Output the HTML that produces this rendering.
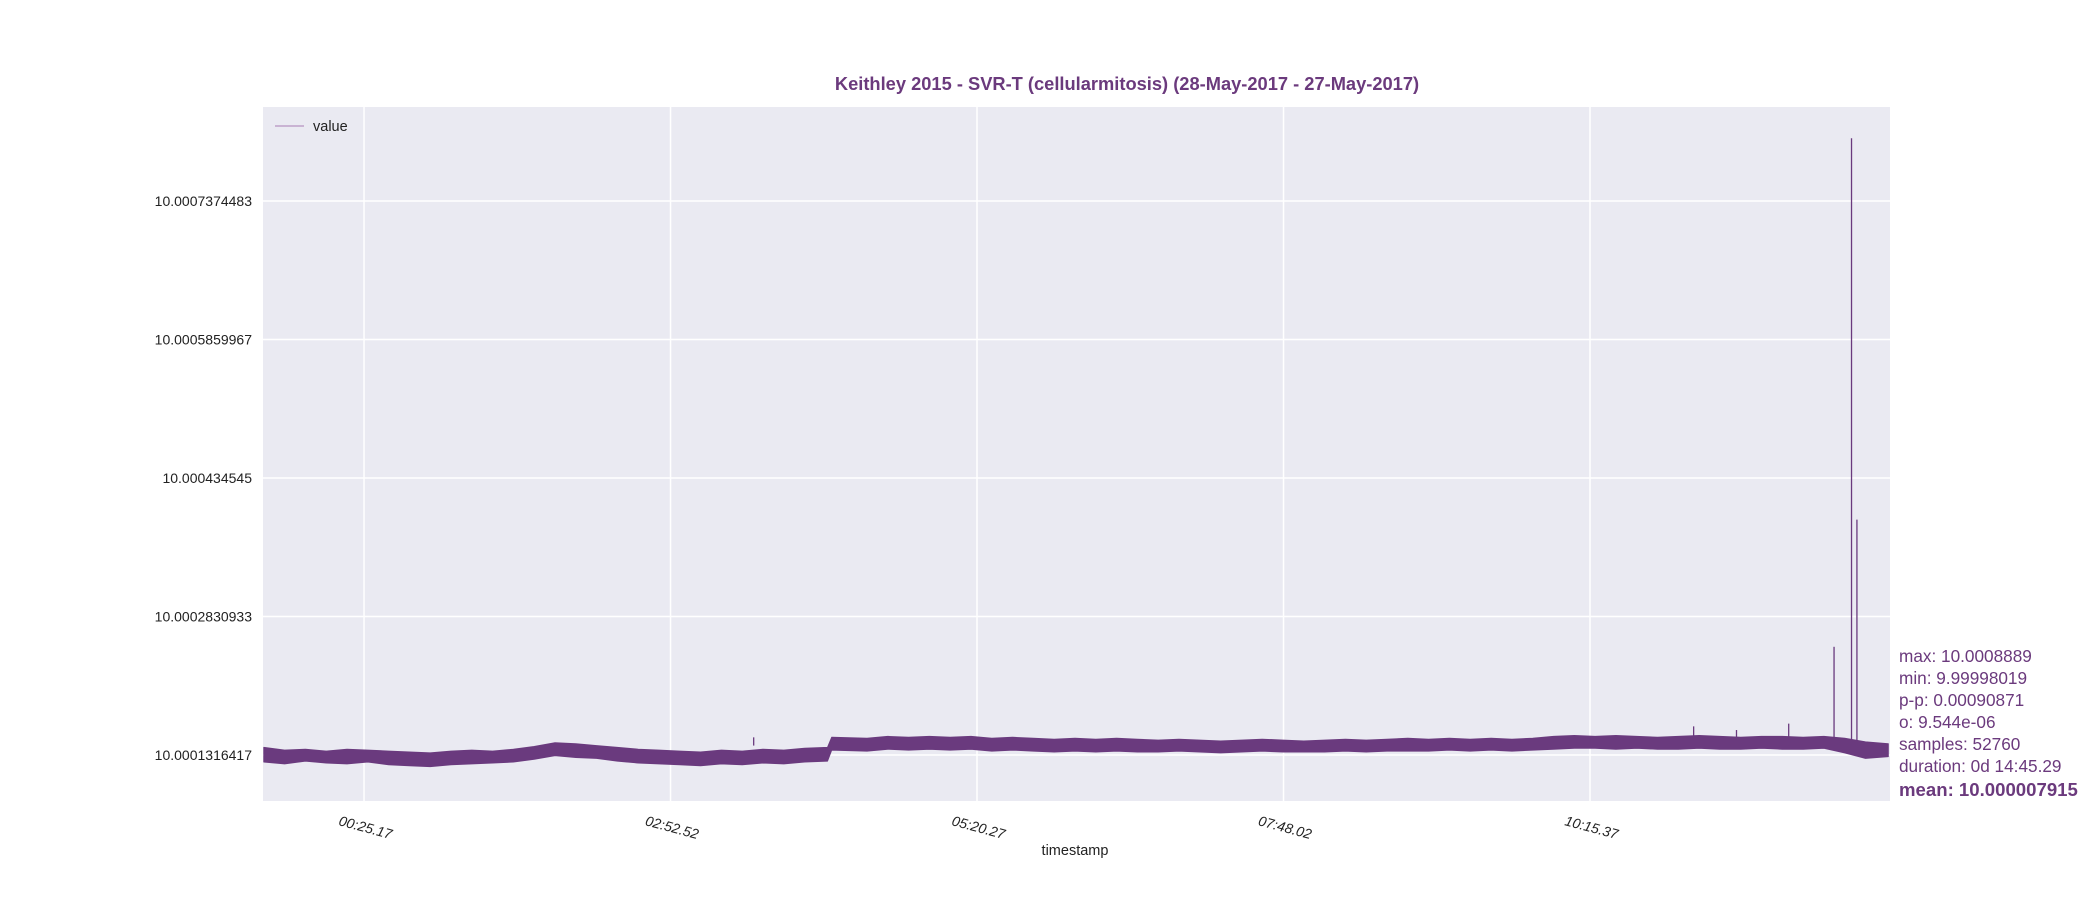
<!DOCTYPE html>
<html><head><meta charset="utf-8"><style>
html,body{margin:0;padding:0;background:#fff;}
svg{display:block;font-family:"Liberation Sans",Arial,sans-serif;}
</style></head><body>
<svg id="chart" width="2100" height="900" viewBox="0 0 2100 900" xmlns="http://www.w3.org/2000/svg">
<text x="1127" y="90" text-anchor="middle" font-size="18.3" font-weight="bold" fill="#6b3a7d">Keithley 2015 - SVR-T (cellularmitosis) (28-May-2017 - 27-May-2017)</text>
<rect x="263" y="107" width="1627" height="694" fill="#eaeaf2"/>
<g id="grid"></g>
<g id="series"></g>
<g id="yticks"></g>
<g id="xticks"></g>
<text x="1075" y="855" text-anchor="middle" font-size="14.5" fill="#222">timestamp</text>
<g>
<line x1="275" y1="126" x2="304" y2="126" stroke="#c9b3d3" stroke-width="2"/>
<text x="313" y="131" font-size="14.5" fill="#222">value</text>
</g>
<g font-size="17.2" fill="#6b3a7d">
<text x="1899" y="662">max: 10.0008889</text>
<text x="1899" y="684">min: 9.99998019</text>
<text x="1899" y="706">p-p: 0.00090871</text>
<text x="1899" y="728">o: 9.544e-06</text>
<text x="1899" y="750">samples: 52760</text>
<text x="1899" y="772">duration: 0d 14:45.29</text>
<text x="1899" y="796" font-weight="bold" font-size="18.6">mean: 10.000007915</text>
</g>
</svg>
<script>
const yTickValues = [10.0001316417, 10.0002830933, 10.000434545, 10.0005859967, 10.0007374483];
const yTickLabels = ["10.0001316417", "10.0002830933", "10.000434545", "10.0005859967", "10.0007374483"];
const xTickValues = [25.17, 172.52, 319.87, 467.22, 614.57];
const xTickLabels = ["00:25.17", "02:52.52", "05:20.27", "07:48.02", "10:15.37"];
const times = [-23,-13,-3,7,17,27,37,47,57,67,77,87,97,107,117,127,137,147,157,167,177,187,197,207,217,227,237,248,250,267,277,287,297,307,317,327,337,347,357,367,377,387,397,407,417,427,437,447,457,467,477,487,497,507,517,527,537,547,557,567,577,587,597,607,617,627,637,647,657,667,677,687,697,707,717,727,737,747,758];
const upperVals = [10.000140,10.000137,10.000138,10.000136,10.000138,10.000137,10.000136,10.000135,10.000134,10.000136,10.000137,10.000136,10.000138,10.000141,10.000145,10.000144,10.000142,10.000140,10.000138,10.000137,10.000136,10.000135,10.000137,10.000136,10.000138,10.000137,10.000139,10.000140,10.000151,10.000150,10.000152,10.000151,10.000152,10.000151,10.000152,10.000150,10.000151,10.000150,10.000149,10.000150,10.000149,10.000150,10.000149,10.000148,10.000149,10.000148,10.000147,10.000148,10.000149,10.000148,10.000147,10.000148,10.000149,10.000148,10.000149,10.000150,10.000149,10.000150,10.000149,10.000150,10.000149,10.000150,10.000152,10.000153,10.000152,10.000153,10.000152,10.000151,10.000152,10.000153,10.000152,10.000151,10.000152,10.000152,10.000151,10.000152,10.000150,10.000146,10.000144];
const lowerVals = [10.000124,10.000122,10.000125,10.000123,10.000122,10.000124,10.000121,10.000120,10.000119,10.000121,10.000122,10.000123,10.000124,10.000127,10.000131,10.000129,10.000128,10.000125,10.000123,10.000122,10.000121,10.000120,10.000122,10.000121,10.000123,10.000122,10.000124,10.000125,10.000137,10.000136,10.000138,10.000137,10.000138,10.000137,10.000138,10.000136,10.000137,10.000136,10.000135,10.000136,10.000135,10.000136,10.000135,10.000135,10.000136,10.000135,10.000134,10.000135,10.000136,10.000135,10.000135,10.000135,10.000136,10.000135,10.000136,10.000136,10.000136,10.000137,10.000136,10.000137,10.000136,10.000137,10.000138,10.000139,10.000139,10.000138,10.000139,10.000138,10.000138,10.000139,10.000138,10.000138,10.000139,10.000138,10.000138,10.000139,10.000134,10.000128,10.000130];
const spikeTimes = [212.5, 664.4, 685.0, 710.1, 731.9, 740.3, 742.9];
const spikeVals = [10.000151, 10.000163, 10.000159, 10.000166, 10.000250, 10.000806, 10.000389];

const X0=263, X1=1890, Y0=107, Y1=801;
const xMin=-23.4, xMax=758.8;
const yMin=10.0000814, yMax=10.0008402;
function xs(t){return X0+(t-xMin)/(xMax-xMin)*(X1-X0);}
function ys(v){return Y1-(v-yMin)/(yMax-yMin)*(Y1-Y0);}
const NS="http://www.w3.org/2000/svg";
function mk(tag,attrs,parent){const e=document.createElementNS(NS,tag);for(const k in attrs)e.setAttribute(k,attrs[k]);parent.appendChild(e);return e;}
const grid=document.getElementById('grid');
const yt=document.getElementById('yticks');
const xt=document.getElementById('xticks');
yTickValues.forEach((v,i)=>{
  const l=mk('line',{x1:X0,x2:X1,y1:ys(v),y2:ys(v),stroke:'#fff','stroke-width':1.5},grid);
  
  
  const t=mk('text',{x:252,y:ys(v)+5,'text-anchor':'end','font-size':14,fill:'#222'},yt);
  t.textContent=yTickLabels[i];
  
  
});
xTickValues.forEach((v,i)=>{
  const x=xs(v);
  const l=mk('line',{x1:x,x2:x,y1:Y0,y2:Y1,stroke:'#fff','stroke-width':1.5},grid);
  
  
  const t=mk('text',{x:x-26,y:825,'font-size':14,fill:'#222','font-style':'italic',transform:`rotate(15 ${x-26} 825)`},xt);
  t.textContent=xTickLabels[i];
  
  
});
const ser=document.getElementById('series');
let pts=[];
times.forEach((t,i)=>pts.push(xs(t).toFixed(1)+','+ys(upperVals[i]).toFixed(1)));
for(let i=times.length-1;i>=0;i--)pts.push(xs(times[i]).toFixed(1)+','+ys(lowerVals[i]).toFixed(1));
const band=mk('polygon',{points:pts.join(' '),fill:'#6a3a7e',stroke:'#6a3a7e','stroke-width':1,'stroke-linejoin':'round'},ser);


spikeTimes.forEach((t,i)=>{
  const s=mk('line',{x1:xs(t),x2:xs(t),y1:ys(10.000142),y2:ys(spikeVals[i]),stroke:'#6a3a7e','stroke-width':1.3},ser);
  
  
});
</script>
</body></html>
